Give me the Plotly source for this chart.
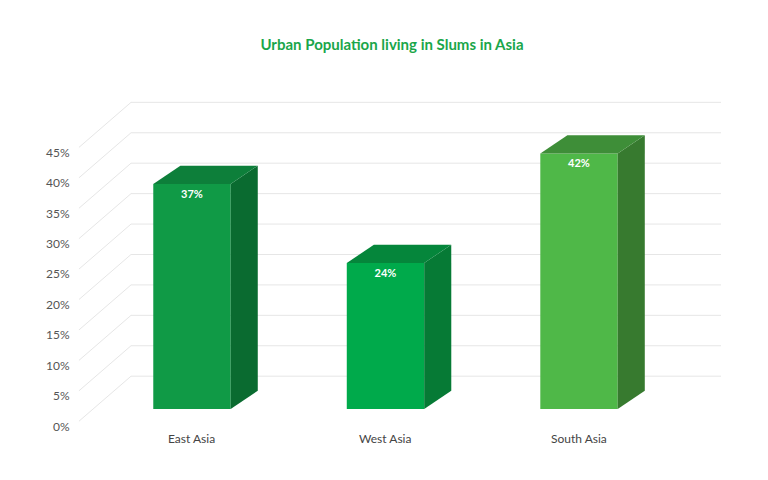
import plotly.graph_objects as go

regions = ["East Asia", "West Asia", "South Asia"]
shares = [37, 24, 42]
ticks = [0, 5, 10, 15, 20, 25, 30, 35, 40, 45]

front = ["#109a46", "#00aa4b", "#4fb848"]
side = ["#0a6b30", "#067a35", "#377a2f"]
top = ["#0d7f3a", "#05863b", "#3e8e38"]

w = 0.4      # bar width (x units)
dx = 0.14    # depth offset in x
dy = 3.0     # depth offset in y (%)
grid = "#e6e6e6"

fig = go.Figure()

# back wall grid + floor diagonals, kept below the bars
for t in ticks:
    fig.add_shape(type="line", x0=-0.315, x1=2.734, y0=t + 5.4, y1=t + 5.4,
                  line=dict(color=grid, width=1), layer="below")
    fig.add_shape(type="line", x0=-0.584, x1=-0.315, y0=t - 2.0, y1=t + 5.4,
                  line=dict(color=grid, width=1), layer="below")
    fig.add_annotation(x=-0.62, y=t - 2.8, text=f"{t}%", showarrow=False, xanchor="right",
                       font=dict(size=12, color="#555"))

xs = list(range(len(regions)))
fig.add_trace(go.Bar(x=xs, y=shares, width=w, marker=dict(color=front, line=dict(width=0)),
                     text=[f"<b>{v}%</b>" for v in shares], textposition="inside",
                     insidetextanchor="end", textfont=dict(color="white", size=11),
                     showlegend=False))

for i, v in enumerate(shares):
    x0, x1 = i - w / 2, i + w / 2
    fig.add_trace(go.Scatter(x=[x1, x1 + dx, x1 + dx, x1, x1], y=[0, dy, v + dy, v, 0],
                             fill="toself", fillcolor=side[i], mode="lines",
                             line=dict(width=0, color=side[i]), hoverinfo="skip", showlegend=False))
    fig.add_trace(go.Scatter(x=[x0, x1, x1 + dx, x0 + dx, x0], y=[v, v, v + dy, v + dy, v],
                             fill="toself", fillcolor=top[i], mode="lines",
                             line=dict(width=0, color=top[i]), hoverinfo="skip", showlegend=False))
    fig.add_annotation(x=i, y=-4.9, text=regions[i], showarrow=False,
                       font=dict(size=12, color="#444"))

fig.update_layout(
    width=768, height=480, plot_bgcolor="white", paper_bgcolor="white",
    font=dict(family="Lato"),
    title=dict(text="<b>Urban Population living in Slums in Asia</b>", x=0.5, y=0.935,
               xanchor="center", font=dict(size=15, color="#1aa64a")),
    margin=dict(l=40, r=30, t=70, b=40),
    xaxis=dict(range=[-0.744, 2.863], visible=False),
    yaxis=dict(range=[-6.4, 54.4], visible=False),
)

fig.write_html("out.html")
